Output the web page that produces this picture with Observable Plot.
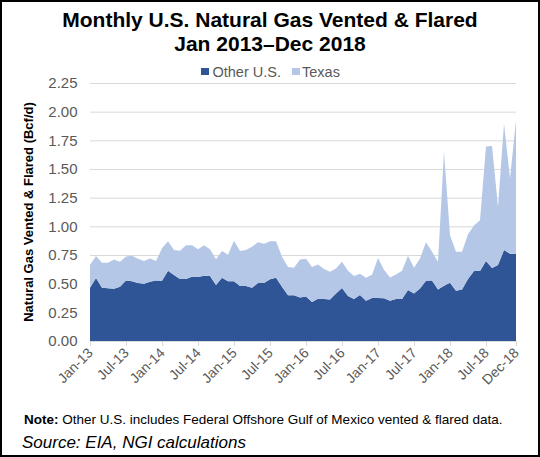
<!DOCTYPE html>
<html><head><meta charset="utf-8">
<script src="https://cdn.jsdelivr.net/npm/d3@7"></script>
<script src="https://cdn.jsdelivr.net/npm/@observablehq/plot@0.6"></script>
<style>
body{margin:0;background:#fff;}
#wrap{position:relative;width:540px;height:457px;background:#fff;font-family:"Liberation Sans",Arial,sans-serif;overflow:hidden;}
#border{position:absolute;left:0;top:0;width:540px;height:457px;box-sizing:border-box;border:2px solid #000;pointer-events:none;}
#title{position:absolute;left:0;top:8px;width:540px;text-align:center;font-weight:bold;font-size:21px;line-height:24px;color:#000;}
.lg-sw{position:absolute;width:7.5px;height:7.5px;top:67.5px;}
.lg-tx{position:absolute;top:63.5px;font-size:14.5px;line-height:16px;color:#595959;white-space:nowrap;}
#ylab{position:absolute;left:28px;top:211.5px;transform:translate(-50%,-50%) rotate(-90deg);font-weight:bold;font-size:13px;white-space:nowrap;color:#000;}
#chart{position:absolute;left:0;top:60px;}
#note{position:absolute;left:24px;top:412px;font-size:13.5px;line-height:16px;white-space:nowrap;color:#000;}
#source{position:absolute;left:22px;top:433px;font-size:17px;line-height:20px;font-style:italic;white-space:nowrap;color:#000;}
</style>
</head><body>
<div id="wrap">
  <div id="title">Monthly U.S. Natural Gas Vented &amp; Flared<br>Jan 2013–Dec 2018</div>
  <div class="lg-sw" style="left:201px;background:#2F5597"></div>
  <div class="lg-tx" style="left:212.5px">Other U.S.</div>
  <div class="lg-sw" style="left:292px;background:#B4C7E7"></div>
  <div class="lg-tx" style="left:302px">Texas</div>
  <div id="ylab">Natural Gas Vented &amp; Flared (Bcf/d)</div>
  <div id="chart"></div>
  <div id="note"><b>Note:</b> Other U.S. includes Federal Offshore Gulf of Mexico vented &amp; flared data.</div>
  <div id="source">Source: EIA, NGI calculations</div>
  <div id="border"></div>
</div>
<script>
// Monthly categories Jan-2013 .. Dec-2018 (index 0..71)
const seriesNames = ["Other U.S.", "Texas"];
const seriesColors = ["#2F5597", "#B4C7E7"];

const otherUS = [
  0.465, 0.549, 0.465, 0.459, 0.455, 0.473, 0.528, 0.522, 0.505, 0.499, 0.516, 0.528,
  0.525, 0.612, 0.576, 0.540, 0.540, 0.561, 0.558, 0.569, 0.566, 0.488, 0.552, 0.522,
  0.522, 0.479, 0.479, 0.465, 0.505, 0.505, 0.538, 0.552, 0.473, 0.398, 0.398, 0.380,
  0.389, 0.340, 0.369, 0.366, 0.363, 0.415, 0.462, 0.392, 0.366, 0.401, 0.352, 0.375,
  0.375, 0.372, 0.351, 0.366, 0.366, 0.444, 0.415, 0.458, 0.526, 0.528, 0.450, 0.482,
  0.508, 0.438, 0.450, 0.540, 0.610, 0.610, 0.697, 0.636, 0.662, 0.793, 0.761, 0.761
];
const texas = [
  0.197, 0.192, 0.217, 0.223, 0.256, 0.218, 0.210, 0.221, 0.212, 0.198, 0.204, 0.169,
  0.283, 0.257, 0.217, 0.248, 0.294, 0.273, 0.243, 0.265, 0.235, 0.226, 0.232, 0.230,
  0.352, 0.305, 0.314, 0.357, 0.357, 0.343, 0.331, 0.317, 0.262, 0.247, 0.241, 0.331,
  0.328, 0.305, 0.299, 0.262, 0.240, 0.218, 0.229, 0.220, 0.200, 0.185, 0.200, 0.202,
  0.349, 0.250, 0.202, 0.214, 0.246, 0.300, 0.224, 0.262, 0.336, 0.250, 0.241, 1.168,
  0.415, 0.340, 0.328, 0.392, 0.398, 0.444, 0.999, 1.064, 0.508, 1.101, 0.656, 1.163
];
const xTickIndex = [0, 6, 12, 18, 24, 30, 36, 42, 48, 54, 60, 66, 71];
const xTickLabels = ["Jan-13","Jul-13","Jan-14","Jul-14","Jan-15","Jul-15","Jan-16","Jul-16","Jan-17","Jul-17","Jan-18","Jul-18","Dec-18"];
const yTicks = [0, 0.25, 0.5, 0.75, 1.0, 1.25, 1.5, 1.75, 2.0, 2.25];

const rows = [];
otherUS.forEach((v, i) => {
  rows.push({i, series: seriesNames[0], value: v});
  rows.push({i, series: seriesNames[1], value: texas[i]});
});

const chart = Plot.plot({
  width: 540,
  height: 330,
  marginLeft: 90,
  marginRight: 24,
  marginTop: 23,
  marginBottom: 49,
  style: {fontFamily: '"Liberation Sans", Arial, sans-serif', color: "#595959", background: "transparent"},
  x: {type: "linear", domain: [0, 71]},
  y: {domain: [0, 2.25]},
  color: {domain: seriesNames, range: seriesColors},
  marks: [
    Plot.gridY(yTicks, {stroke: "#d9d9d9", strokeOpacity: 1}),
    Plot.areaY(rows, {x: "i", y: "value", fill: "series", order: seriesNames}),
    Plot.ruleY([0], {stroke: "#d9d9d9"}),
    Plot.axisY(yTicks, {tickSize: 0, tickPadding: 13, tickFormat: d3.format(".2f"), fontSize: 15, fill: "#595959", label: null}),
    Plot.axisX(xTickIndex, {tickSize: 5, stroke: "#d9d9d9", tickRotate: -45, tickPadding: 4, fontSize: 14, fill: "#595959",
      tickFormat: d => xTickLabels[xTickIndex.indexOf(d)], label: null})
  ]
});
document.getElementById("chart").appendChild(chart);
</script>
</body></html>
